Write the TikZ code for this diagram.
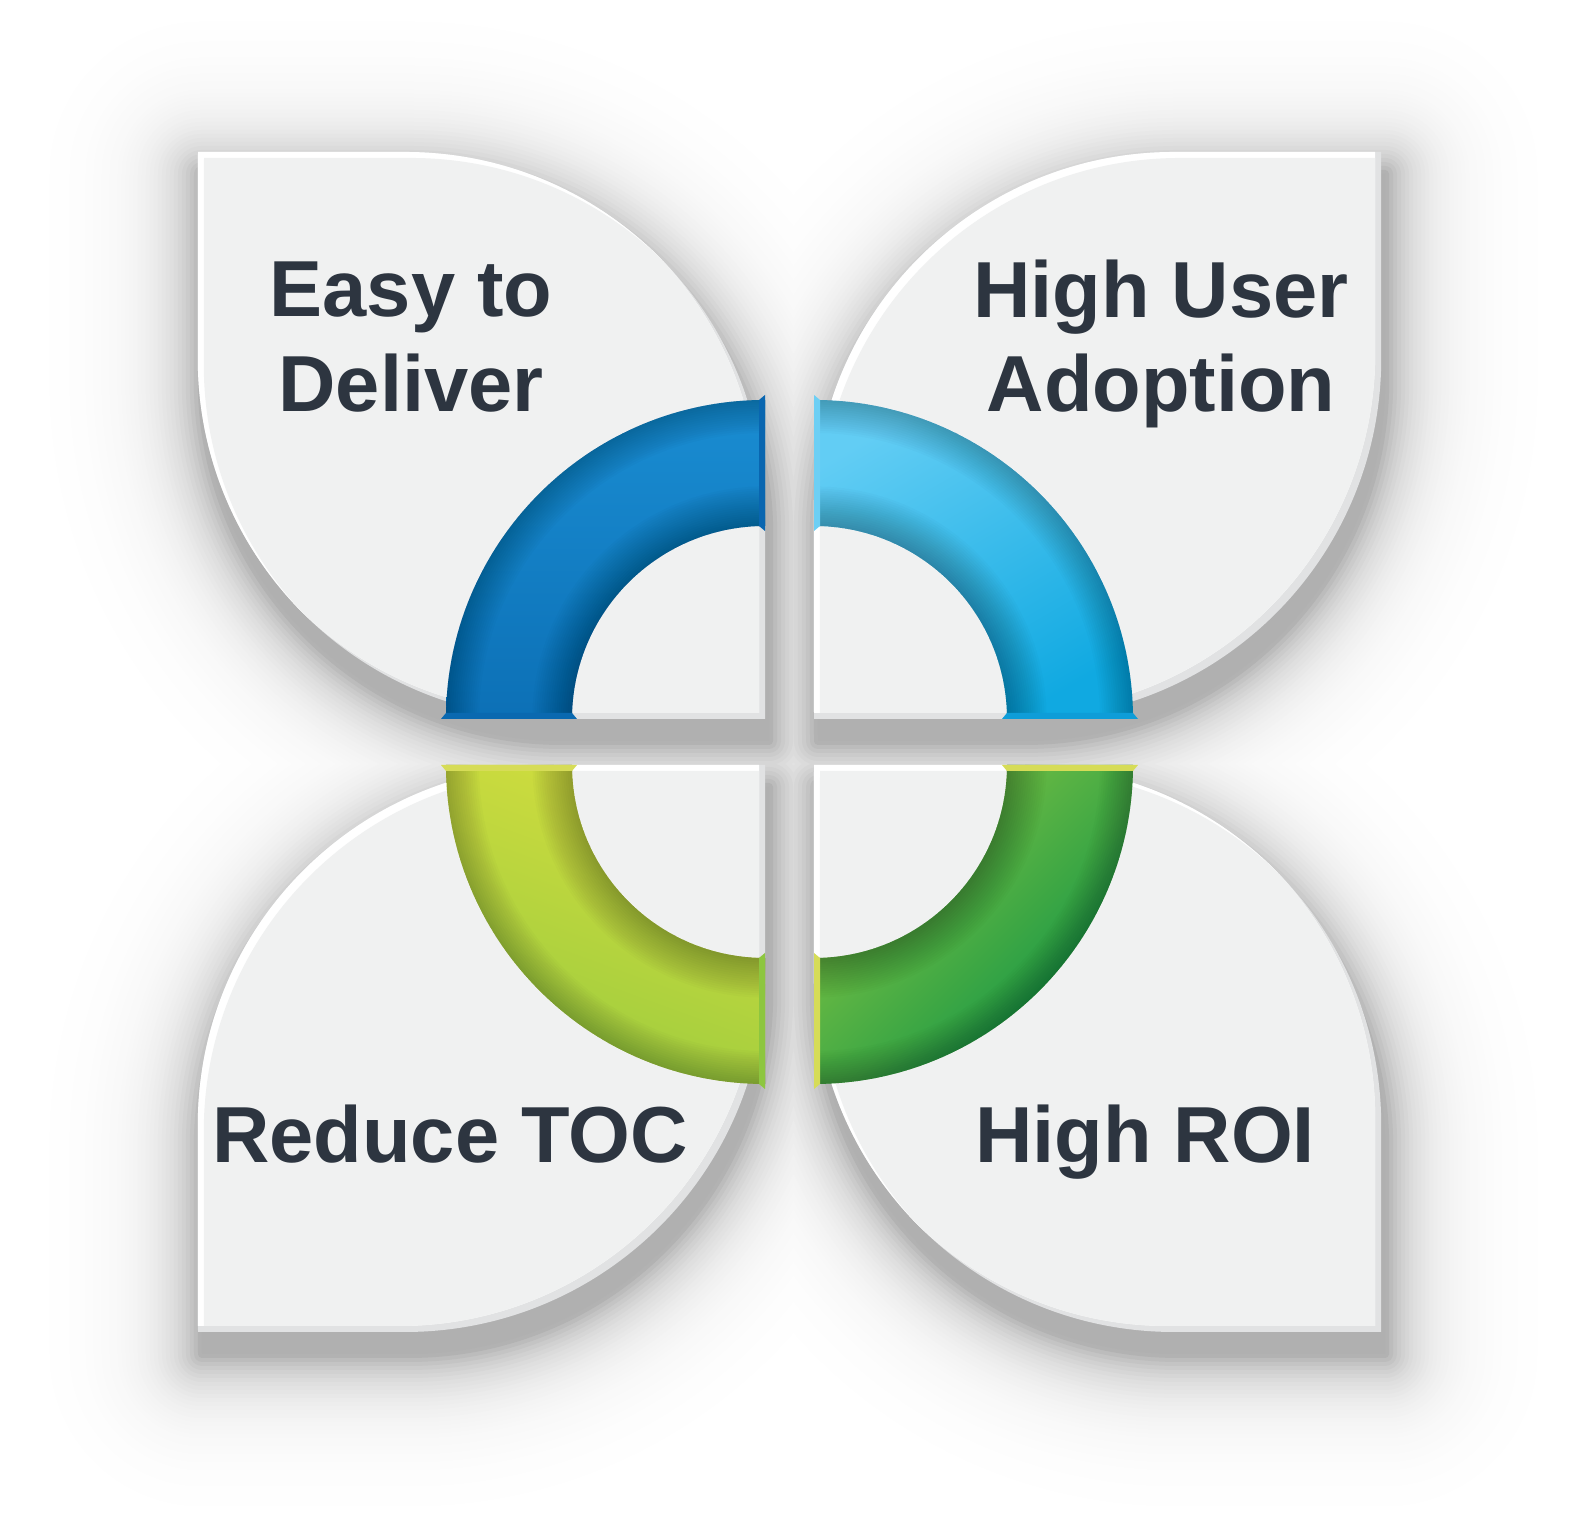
\documentclass[tikz,border=0pt]{standalone}
\usepackage{fontspec}
\setmainfont{Liberation Sans}
\definecolor{leafgray}{HTML}{F0F1F1}
\definecolor{rimgray}{HTML}{E1E2E3}
\definecolor{labeltext}{HTML}{2D3540}
\definecolor{blueA}{HTML}{1A8DD2}
\definecolor{blueB}{HTML}{0C70B6}
\definecolor{blueLipA}{HTML}{0A69B0}
\definecolor{blueLipB}{HTML}{0966B0}
\definecolor{skyA}{HTML}{62CDF4}
\definecolor{skyB}{HTML}{10A9E1}
\definecolor{skyLipA}{HTML}{0E9DD8}
\definecolor{skyLipB}{HTML}{6DCFF4}
\definecolor{limeA}{HTML}{D2DD3E}
\definecolor{limeB}{HTML}{9CCC3E}
\definecolor{limeLip}{HTML}{8DC63F}
\definecolor{greenA}{HTML}{88C642}
\definecolor{greenB}{HTML}{0A9246}
\definecolor{lipYellow}{HTML}{D6DC57}
\begin{document}
\begin{tikzpicture}[x=0.01cm,y=0.01cm,
  leafpath/.style n args={4}{insert path={({#1},{#2}) -- ({#1+(#3)*207},{#2})
    arc[start angle={-90*(#4)},delta angle={90*(#3)*(#4)},radius=3.6cm]
    -- ({#1+(#3)*567},{#2+(#4)*567}) -- ({#1+(#3)*360},{#2+(#4)*567})
    arc[start angle={90*(#4)},delta angle={90*(#3)*(#4)},radius=3.6cm] -- cycle}},
  bandpath/.style n args={6}{insert path={({#1+(#3)*(#5)},{#2}) -- ({#1+(#3)*(#6)},{#2})
    arc[start angle={90-90*(#3)},delta angle={90*(#3)*(#4)},radius={(#6)*0.01cm}]
    -- ({#1},{#2+(#4)*(#5)})
    arc[start angle={90*(#4)},delta angle={-90*(#3)*(#4)},radius={(#5)*0.01cm}] -- cycle}},
  leaftext/.style={font=\fontsize{22.6}{27}\selectfont\bfseries,text=labeltext,
    align=center,inner sep=0pt}]
\useasboundingbox (0,0) rectangle (1578,1528);
\fill[white] (0,0) rectangle (1578,1528);
\foreach \k in {40,39,...,1}{
  \pgfmathsetmacro\shp{24*exp(-(4*\k-2)/26)+8*exp(-(4*\k-2)/70)*(1-((4*\k-2)/160)^2)}
  \pgfmathsetlengthmacro\shw{8*\k*0.01cm}
  \foreach \ix/\iy/\sx/\sy in {765/809/-1/1,814/809/1/1,765/763/-1/-1,814/763/1/-1}
    \draw[black!\shp!white,line width=\shw,line join=round,leafpath={\ix+4}{\iy-22}{\sx}{\sy}];
}
\foreach \ix/\iy/\sx/\sy in {765/809/-1/1,814/809/1/1,765/763/-1/-1,814/763/1/-1}
  \fill[black!31!white,leafpath={\ix+4}{\iy-22}{\sx}{\sy}];
\foreach \ix/\iy/\sx/\sy in {765/809/-1/1,814/809/1/1,765/763/-1/-1,814/763/1/-1}{
  \fill[rimgray,leafpath={\ix}{\iy}{\sx}{\sy}];
  \begin{scope}
    \clip[leafpath={\ix}{\iy}{\sx}{\sy}];
    \fill[white,leafpath={\ix-6}{\iy+6}{\sx}{\sy}];
  \end{scope}
  \begin{scope}
    \clip[leafpath={\ix+6}{\iy-6}{\sx}{\sy}];
    \fill[leafgray,leafpath={\ix-6}{\iy+6}{\sx}{\sy}];
  \end{scope}
}
\foreach \ix/\iy/\sx/\sy/\ca/\cb/\ang/\lipx/\lipy in {
    765/809/-1/1/blueA/blueB/0/blueLipA/blueLipB,
    814/809/1/1/skyA/skyB/30/skyLipA/skyLipB,
    765/763/-1/-1/limeA/limeB/-20/lipYellow/limeLip,
    814/763/1/-1/greenA/greenB/45/lipYellow/lipYellow}{
  \shade[top color=\ca,bottom color=\cb,shading angle=\ang,bandpath={\ix}{\iy}{\sx}{\sy}{193}{319}];
  \foreach \j in {1,...,18}
    \fill[black,opacity=0.017,bandpath={\ix}{\iy}{\sx}{\sy}{193}{193+2.2*\j}];
  \foreach \j in {1,...,15}
    \fill[black,opacity=0.015,bandpath={\ix}{\iy}{\sx}{\sy}{319-2.2*\j}{319}];
  \fill[\lipx] ({\ix+(\sx)*188},\iy) -- ({\ix+(\sx)*324},\iy) -- ({\ix+(\sx)*319},{\iy+(\sy)*6})
    -- ({\ix+(\sx)*193},{\iy+(\sy)*6}) -- cycle;
  \fill[\lipy] (\ix,{\iy+(\sy)*188}) -- (\ix,{\iy+(\sy)*324}) -- ({\ix+(\sx)*6},{\iy+(\sy)*319})
    -- ({\ix+(\sx)*6},{\iy+(\sy)*193}) -- cycle;
}
\node[leaftext] (easy) at (411,1191) {Easy to\\Deliver};
\node[leaftext] (adoption) at (1161,1184) {High User\\Adoption};
\node[leaftext] (toc) at (450,394) {Reduce TOC};
\node[leaftext] (roi) at (1145,386) {High ROI};
\end{tikzpicture}
\end{document}
